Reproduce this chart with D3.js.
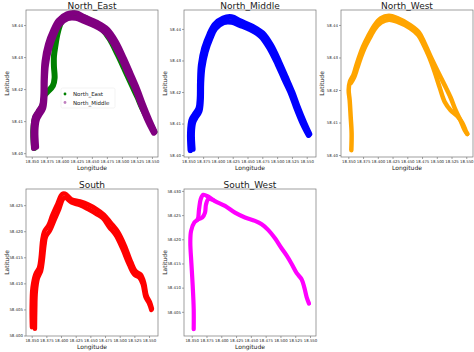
<!DOCTYPE html>
<html><head><meta charset="utf-8">
<script src="https://cdn.jsdelivr.net/npm/d3@7"></script>
<style>body{margin:0;background:#fff}svg{display:block}text{font-family:"DejaVu Sans",sans-serif}</style>
</head><body><svg id="c" width="474" height="352"></svg>
<script>
// ---------- data ----------
const lonTicks = [18.350,18.375,18.400,18.425,18.450,18.475,18.500,18.525,18.550];
const northLatTicks = [58.40,58.41,58.42,58.43,58.44];
const southLatTicks = [58.400,58.405,58.410,58.415,58.420,58.425];
const southWestLatTicks = [58.405,58.410,58.415,58.420,58.425,58.430];
const panelTitles = ["North_East","North_Middle","North_West","South","South_West"];
const legendLabels = ["North_East","North_Middle"];

// axis limits [min,max]
const northEastLonLim = [18.3404,18.5601], northEastLatLim = [58.3988,58.4447];
const northMiddleLonLim = [18.3427,18.5657], northMiddleLatLim = [58.3994,58.4460];
const northWestLonLim = [18.3376,18.5614], northWestLatLim = [58.3994,58.4446];
const southLonLim = [18.3403,18.5653], southLatLim = [58.3999,58.4281];
const southWestLonLim = [18.3370,18.5601], southWestLatLim = [58.4000,58.4304];

// tracks [lon, lat]
const northEastTrack = [[18.3540,58.4016],[18.3525,58.4070],[18.3555,58.4110],[18.3610,58.4127],[18.3680,58.4150],[18.3710,58.4180],[18.3751,58.4189],[18.3852,58.4211],[18.3880,58.4235],[18.3869,58.4271],[18.3869,58.4302],[18.3891,58.4333],[18.3930,58.4374],[18.3986,58.4407],[18.4075,58.4426],[18.4209,58.4430],[18.4366,58.4424],[18.4534,58.4406],[18.4680,58.4386],[18.4800,58.4356],[18.4930,58.4308],[18.5050,58.4260],[18.5160,58.4215],[18.5260,58.4175],[18.5340,58.4140],[18.5450,58.4100],[18.5540,58.4066]];
const northMiddleTrackA = [[18.3533,58.4015],[18.3524,58.4070],[18.3548,58.4111],[18.3603,58.4129],[18.3668,58.4149],[18.3688,58.4180],[18.3693,58.4232],[18.3708,58.4287],[18.3765,58.4340],[18.3852,58.4383],[18.3942,58.4414],[18.4087,58.4434],[18.4232,58.4438],[18.4378,58.4425],[18.4582,58.4408],[18.4756,58.4387],[18.4900,58.4349],[18.5040,58.4295],[18.5152,58.4247],[18.5262,58.4199],[18.5347,58.4156],[18.5459,58.4104],[18.5548,58.4067]];
const northMiddleTrackB = [[18.3577,58.4019],[18.3566,58.4070],[18.3587,58.4103],[18.3622,58.4117],[18.3692,58.4139],[18.3716,58.4173],[18.3722,58.4227],[18.3741,58.4276],[18.3798,58.4328],[18.3879,58.4371],[18.3960,58.4401],[18.4098,58.4421],[18.4232,58.4422],[18.4368,58.4412],[18.4558,58.4397],[18.4722,58.4377],[18.4860,58.4341],[18.5002,58.4289],[18.5116,58.4241],[18.5230,58.4195],[18.5315,58.4152],[18.5429,58.4100],[18.5530,58.4063]];
const northWestTrackA = [[18.3551,58.4015],[18.3556,58.4067],[18.3540,58.4118],[18.3523,58.4169],[18.3506,58.4200],[18.3528,58.4226],[18.3585,58.4246],[18.3630,58.4272],[18.3686,58.4303],[18.3749,58.4333],[18.3833,58.4364],[18.3935,58.4397],[18.4048,58.4420],[18.4189,58.4428],[18.4331,58.4421],[18.4556,58.4399],[18.4698,58.4377],[18.4794,58.4344],[18.4895,58.4303],[18.5020,58.4256],[18.5133,58.4215],[18.5234,58.4177],[18.5319,58.4138],[18.5404,58.4106],[18.5472,58.4077],[18.5517,58.4065]];
const northWestTrackB = [[18.3545,58.4222],[18.3600,58.4240],[18.3648,58.4265],[18.3705,58.4296],[18.3768,58.4326],[18.3852,58.4356],[18.3952,58.4388],[18.4060,58.4408],[18.4190,58.4416],[18.4325,58.4410],[18.4545,58.4390],[18.4685,58.4369],[18.4780,58.4338],[18.4867,58.4303],[18.4963,58.4256],[18.5054,58.4205],[18.5133,58.4164],[18.5234,58.4138],[18.5347,58.4120],[18.5432,58.4099],[18.5489,58.4075],[18.5517,58.4065]];
const southTrackA = [[18.3505,58.4016],[18.3500,58.4050],[18.3515,58.4092],[18.3565,58.4118],[18.3625,58.4130],[18.3652,58.4148],[18.3680,58.4182],[18.3712,58.4199],[18.3788,58.4212],[18.3852,58.4231],[18.3940,58.4253],[18.4015,58.4271],[18.4068,58.4272],[18.4182,58.4261],[18.4324,58.4257],[18.4466,58.4251],[18.4610,58.4242],[18.4730,58.4232],[18.4850,58.4216],[18.4970,58.4199],[18.5085,58.4173],[18.5195,58.4141],[18.5275,58.4123],[18.5357,58.4117],[18.5415,58.4102],[18.5460,58.4076],[18.5515,58.4064],[18.5550,58.4051]];
const southTrackB = [[18.3555,58.4013],[18.3560,58.4050],[18.3570,58.4084],[18.3605,58.4110],[18.3660,58.4124],[18.3688,58.4144],[18.3718,58.4174],[18.3742,58.4189],[18.3814,58.4202],[18.3886,58.4221],[18.3970,58.4243],[18.4035,58.4262],[18.4075,58.4264],[18.4182,58.4255],[18.4324,58.4250],[18.4466,58.4242],[18.4605,58.4233],[18.4712,58.4225],[18.4820,58.4208],[18.4928,58.4193],[18.5040,58.4168],[18.5158,58.4136],[18.5248,58.4117],[18.5337,58.4111],[18.5392,58.4099],[18.5440,58.4074],[18.5498,58.4062],[18.5540,58.4049]];
const southWestTrackA = [[18.3534,58.4014],[18.3534,58.4056],[18.3517,58.4104],[18.3494,58.4152],[18.3477,58.4193],[18.3489,58.4217],[18.3545,58.4235],[18.3601,58.4241],[18.3624,58.4262],[18.3652,58.4283],[18.3697,58.4292],[18.3782,58.4288],[18.3894,58.4279],[18.4063,58.4269],[18.4232,58.4255],[18.4401,58.4245],[18.4570,58.4238],[18.4683,58.4231],[18.4796,58.4219],[18.4908,58.4202],[18.5010,58.4183],[18.5106,58.4166],[18.5190,58.4149],[18.5275,58.4130],[18.5359,58.4117],[18.5404,58.4100],[18.5444,58.4080],[18.5483,58.4067]];
const southWestTrackB = [[18.3601,58.4241],[18.3680,58.4245],[18.3725,58.4255],[18.3742,58.4272],[18.3782,58.4283],[18.3866,58.4281]];

// ---------- layout & drawing ----------
const svg = d3.select("#c");
const W = 132, H = 147;
const panels = [
  {x:26, y:10, lonLim:northEastLonLim, latLim:northEastLatLim, latTicks:northLatTicks, fmt:".2f",
   series:[{tracks:[northEastTrack], color:"green", w:6},{tracks:[northMiddleTrackA,northMiddleTrackB], color:"purple", w:5.5}], legend:true},
  {x:184, y:10, lonLim:northMiddleLonLim, latLim:northMiddleLatLim, latTicks:northLatTicks, fmt:".2f",
   series:[{tracks:[northMiddleTrackA,northMiddleTrackB], color:"blue", w:5.5}]},
  {x:341, y:10, lonLim:northWestLonLim, latLim:northWestLatLim, latTicks:northLatTicks, fmt:".2f",
   series:[{tracks:[northWestTrackA,northWestTrackB], color:"orange", w:4.5}]},
  {x:26, y:189, lonLim:southLonLim, latLim:southLatLim, latTicks:southLatTicks, fmt:".3f",
   series:[{tracks:[southTrackA,southTrackB], color:"red", w:4.5}]},
  {x:184, y:189, lonLim:southWestLonLim, latLim:southWestLatLim, latTicks:southWestLatTicks, fmt:".3f",
   series:[{tracks:[southWestTrackA,southWestTrackB], color:"magenta", w:4.2}]}
];

panels.forEach((p,i)=>{
  const g = svg.append("g").attr("transform",`translate(${p.x},${p.y})`);
  const x = d3.scaleLinear().domain(p.lonLim).range([0,W]);
  const y = d3.scaleLinear().domain(p.latLim).range([H,0]);
  const cid = "clip"+i;
  g.append("clipPath").attr("id",cid).append("rect").attr("width",W).attr("height",H);
  const line = d3.line().x(d=>x(d[0])).y(d=>y(d[1])).curve(d3.curveCatmullRom.alpha(0.5));
  const plot = g.append("g").attr("clip-path",`url(#${cid})`);
  p.series.forEach(s=>{
    s.tracks.forEach(t=>{
      plot.append("path").attr("d",line(t)).attr("fill","none").attr("stroke",s.color)
        .attr("stroke-width",s.w).attr("stroke-linecap","round").attr("stroke-linejoin","round");
    });
  });
  // axes
  const xa = g.append("g").attr("transform",`translate(0,${H})`)
    .call(d3.axisBottom(x).tickValues(lonTicks).tickFormat(d3.format(".3f")).tickSize(2).tickPadding(1));
  const ya = g.append("g")
    .call(d3.axisLeft(y).tickValues(p.latTicks).tickFormat(d3.format(p.fmt)).tickSize(2).tickPadding(1));
  [xa,ya].forEach(a=>{
    a.select(".domain").remove();
    a.selectAll(".tick line").attr("stroke","#444").attr("stroke-width",0.5);
    a.selectAll(".tick text").attr("fill","#222").style("font-size","3.9px").style("font-family","DejaVu Sans");
  });
  g.append("rect").attr("width",W).attr("height",H).attr("fill","none").attr("stroke","#777").attr("stroke-width",0.7);
  g.append("text").attr("x",W/2).attr("y",-1.5).attr("text-anchor","middle")
    .style("font-size","9px").attr("fill","#222").text(panelTitles[i]);
  g.append("text").attr("x",W/2).attr("y",H+12.5).attr("text-anchor","middle")
    .style("font-size","6px").attr("fill","#222").text("Longitude");
  g.append("text").attr("transform",`translate(-17,${H/2}) rotate(-90)`).attr("text-anchor","middle")
    .style("font-size","6px").attr("fill","#222").text("Latitude");
  if(p.legend){
    const lg = g.append("g").attr("transform","translate(35,78)");
    lg.append("rect").attr("width",54).attr("height",20).attr("rx",1.5)
      .attr("fill","white").attr("fill-opacity",0.8).attr("stroke","#e6e6e6").attr("stroke-width",0.5);
    const legendColors = ["green","purple"];
    const legendOpacity = [1,0.5];
    legendLabels.forEach((lab,k)=>{
      lg.append("circle").attr("cx",4).attr("cy",6+k*8.5).attr("r",1.4)
        .attr("fill",legendColors[k]).attr("fill-opacity",legendOpacity[k]);
      lg.append("text").attr("x",12).attr("y",8+k*8.5).style("font-size","5.5px").attr("fill","#222").text(lab);
    });
  }
});
</script></body></html>
